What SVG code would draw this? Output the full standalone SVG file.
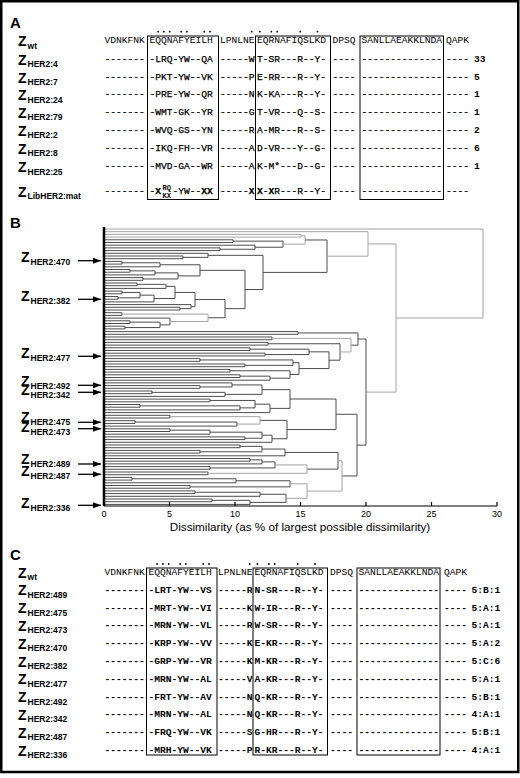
<svg xmlns="http://www.w3.org/2000/svg" width="520" height="778" viewBox="0 0 520 778">
<style>
.seq{font-family:"Liberation Mono","Courier New",monospace;font-size:9.6px;fill:#000}
.sa{stroke:#000;stroke-width:0.25}
.sb{font-weight:bold}
.z{font-family:"Liberation Sans",Arial,sans-serif;font-weight:bold;font-size:14px;fill:#000}
.zs{font-size:8.5px}
.box{fill:none;stroke:#000;stroke-width:1}
.lbl{font-family:"Liberation Sans",Arial,sans-serif;font-weight:bold;font-size:15px}
.dn{fill:none;stroke:#4d4d4d;stroke-width:1}
.dl{fill:none;stroke:#a3a3a3;stroke-width:1}
.ax{font-family:"Liberation Sans",Arial,sans-serif;font-size:9px;text-anchor:middle}
.arr{stroke:#000;stroke-width:1.3;fill:none}
</style>
<defs>
<marker id="ah" viewBox="0 0 8 6" refX="8" refY="3" markerWidth="8" markerHeight="6" markerUnits="userSpaceOnUse" orient="auto"><path d="M0,0L8,3L0,6z" fill="#000"/></marker>
</defs>
<rect x="0" y="0" width="520" height="778" fill="#fff"/>
<rect x="1.25" y="1.25" width="517" height="770.75" fill="none" stroke="#000" stroke-width="2.5"/>

<!-- Panel A -->
<g id="panelA">
<text class="lbl" x="10" y="28">A</text>
<g id="a-dots" fill="#000">
<circle cx="158.1" cy="31.7" r="0.9"/><circle cx="163.9" cy="31.7" r="0.9"/><circle cx="169.7" cy="31.7" r="0.9"/>
<circle cx="181.2" cy="31.7" r="0.9"/><circle cx="186.9" cy="31.7" r="0.9"/>
<circle cx="204.2" cy="31.7" r="0.9"/><circle cx="210" cy="31.7" r="0.9"/>
<circle cx="251.7" cy="31.7" r="0.9"/>
<circle cx="259.9" cy="31.7" r="0.9"/><circle cx="271.4" cy="31.7" r="0.9"/><circle cx="277.2" cy="31.7" r="0.9"/>
<circle cx="300.2" cy="31.7" r="0.9"/><circle cx="317.5" cy="31.7" r="0.9"/>
</g>
<g id="a-boxes">
<rect class="box" x="147.5" y="36" width="71" height="163.5"/>
<rect class="box" x="255.5" y="36" width="75" height="163.5"/>
<rect class="box" x="360" y="36" width="83.5" height="163.5"/>
</g>
<g id="a-wt">
<text class="z" x="18" y="46">Z<tspan class="zs" dx="1" dy="2.5">wt</tspan></text>
<text class="seq" y="43"><tspan x="104.5">VDNKFNK</tspan><tspan x="149.5">EQQNAFYEILH</tspan><tspan x="220">LPNLNE</tspan><tspan x="257">EQRNAFIQSLKD</tspan><tspan x="332.5">DPSQ</tspan><tspan x="361.5">SANLLAEAKKLNDA</tspan><tspan x="446">QAPK</tspan></text>
</g>
<g id="a-her2-4">
<text class="z" x="18" y="64.5">Z<tspan class="zs" dx="1" dy="2.5">HER2:4</tspan></text>
<text class="seq sa" y="61.5"><tspan x="104.5">-------</tspan><tspan x="149.5">-LRQ-YW--QA</tspan><tspan x="220">-----W</tspan><tspan x="257">T-SR---R--Y-</tspan><tspan x="332.5">----</tspan><tspan x="361.5">--------------</tspan><tspan x="446">----</tspan></text>
<text class="seq sb" x="474" y="61.5">33</text>
</g>
<g id="a-her2-7">
<text class="z" x="18" y="82.5">Z<tspan class="zs" dx="1" dy="2.5">HER2:7</tspan></text>
<text class="seq sa" y="79.5"><tspan x="104.5">-------</tspan><tspan x="149.5">-PKT-YW--VK</tspan><tspan x="220">-----P</tspan><tspan x="257">E-RR---R--Y-</tspan><tspan x="332.5">----</tspan><tspan x="361.5">--------------</tspan><tspan x="446">----</tspan></text>
<text class="seq sb" x="474" y="79.5">5</text>
</g>
<g id="a-her2-24">
<text class="z" x="18" y="100">Z<tspan class="zs" dx="1" dy="2.5">HER2:24</tspan></text>
<text class="seq sa" y="97"><tspan x="104.5">-------</tspan><tspan x="149.5">-PRE-YW--QR</tspan><tspan x="220">-----N</tspan><tspan x="257">K-KA---R--Y-</tspan><tspan x="332.5">----</tspan><tspan x="361.5">--------------</tspan><tspan x="446">----</tspan></text>
<text class="seq sb" x="474" y="97">1</text>
</g>
<g id="a-her2-79">
<text class="z" x="18" y="117.5">Z<tspan class="zs" dx="1" dy="2.5">HER2:79</tspan></text>
<text class="seq sa" y="114.5"><tspan x="104.5">-------</tspan><tspan x="149.5">-WMT-GK--YR</tspan><tspan x="220">-----G</tspan><tspan x="257">T-VR---Q--S-</tspan><tspan x="332.5">----</tspan><tspan x="361.5">--------------</tspan><tspan x="446">----</tspan></text>
<text class="seq sb" x="474" y="114.5">1</text>
</g>
<g id="a-her2-2">
<text class="z" x="18" y="135.5">Z<tspan class="zs" dx="1" dy="2.5">HER2:2</tspan></text>
<text class="seq sa" y="132.5"><tspan x="104.5">-------</tspan><tspan x="149.5">-WVQ-GS--YN</tspan><tspan x="220">-----R</tspan><tspan x="257">A-MR---R--S-</tspan><tspan x="332.5">----</tspan><tspan x="361.5">--------------</tspan><tspan x="446">----</tspan></text>
<text class="seq sb" x="474" y="132.5">2</text>
</g>
<g id="a-her2-8">
<text class="z" x="18" y="153.5">Z<tspan class="zs" dx="1" dy="2.5">HER2:8</tspan></text>
<text class="seq sa" y="150.5"><tspan x="104.5">-------</tspan><tspan x="149.5">-IKQ-FH--VR</tspan><tspan x="220">-----A</tspan><tspan x="257">D-VR---Y--G-</tspan><tspan x="332.5">----</tspan><tspan x="361.5">--------------</tspan><tspan x="446">----</tspan></text>
<text class="seq sb" x="474" y="150.5">6</text>
</g>
<g id="a-her2-25">
<text class="z" x="18" y="172">Z<tspan class="zs" dx="1" dy="2.5">HER2:25</tspan></text>
<text class="seq sa" y="169"><tspan x="104.5">-------</tspan><tspan x="149.5">-MVD-GA--WR</tspan><tspan x="220">-----A</tspan><tspan x="257">K-M*---D--G-</tspan><tspan x="332.5">----</tspan><tspan x="361.5">--------------</tspan><tspan x="446">----</tspan></text>
<text class="seq sb" x="474" y="169">1</text>
</g>
<g id="a-lib">
<text class="z" x="18" y="196.5">Z<tspan class="zs" dx="1" dy="2.5">LibHER2:mat</tspan></text>
<text class="seq sa" y="193.5"><tspan x="104.5">-------</tspan><tspan x="149.5">-<tspan class="sb">X</tspan></tspan><tspan x="172.5">-YW--<tspan class="sb">XX</tspan></tspan><tspan x="220">-----<tspan class="sb">X</tspan></tspan><tspan x="257"><tspan class="sb">X</tspan>-<tspan class="sb">X</tspan>R---R--Y-</tspan><tspan x="332.5">----</tspan><tspan x="361.5">--------------</tspan><tspan x="446">----</tspan></text>
<text class="seq sb" style="font-size:7px" x="162.5" y="189.5">RQ</text>
<text class="seq sb" style="font-size:7px" x="162.5" y="198">KX</text>
</g>
</g>

<!-- Panel B -->
<g id="panelB">
<text class="lbl" x="10" y="228">B</text>
<g id="dendrogram">
<g class="dn">
<path d="M104 239.8H233V242.5H104"/>
<path d="M104 247.9H220V250.6H104"/>
<path d="M104 245.2H255V249.25H220"/>
<path d="M233 241.15H283V247.22H255"/>
<path d="M104 256H183V258.7H104"/>
<path d="M104 253.3H208V257.35H183"/>
<path d="M104 261.4H122V264.1H104"/>
<path d="M122 262.75H160V266.8H104"/>
<path d="M104 269.5H130V272.2H104"/>
<path d="M130 270.85H155V274.9H104"/>
<path d="M104 277.6H143V280.3H104"/>
<path d="M155 272.88H178V278.95H143"/>
<path d="M160 264.78H200V275.92H178"/>
<path d="M104 283H137V285.7H104"/>
<path d="M137 284.35H166V288.4H104"/>
<path d="M104 291.1H122V293.8H104"/>
<path d="M104 296.5H118V299.2H104"/>
<path d="M122 292.45H140V297.85H118"/>
<path d="M140 295.15H154V301.9H104"/>
<path d="M166 286.38H175V298.53H154"/>
<path d="M104 307.3H180V310H104"/>
<path d="M104 304.6H191V308.65H180"/>
<path d="M175 292.45H195V306.63H191"/>
<path d="M104 312.7H122V315.4H104"/>
<path d="M104 320.8H130V323.5H104"/>
<path d="M104 326.2H125V328.9H104"/>
<path d="M130 322.15H160V327.55H125"/>
<path d="M104 318.1H170V324.85H160"/>
<path d="M195 299.54H225V317.76H208"/>
<path d="M200 270.35H245V308.65H225"/>
<path d="M208 255.33H263V289.5H245"/>
<path d="M305 239.97H327V272.42H263"/>
<path d="M104 331.6H298V334.3H104"/>
<path d="M104 337H272V339.7H104"/>
<path d="M104 342.4H268V345.1H104"/>
<path d="M104 347.8H250V350.5H104"/>
<path d="M104 353.2H265V355.9H104"/>
<path d="M250 349.15H309V354.55H265"/>
<path d="M104 358.6H200V361.3H104"/>
<path d="M104 364H245V366.7H104"/>
<path d="M200 359.95H293V365.35H245"/>
<path d="M104 369.4H230V372.1H104"/>
<path d="M104 374.8H240V377.5H104"/>
<path d="M240 376.15H270V380.2H104"/>
<path d="M230 370.75H290V378.18H270"/>
<path d="M293 362.65H299V374.46H290"/>
<path d="M309 351.85H329V368.56H299"/>
<path d="M268 343.75H340V360.2H329"/>
<path d="M298 332.95H358V345.16H351"/>
<path d="M104 385.6H200V388.3H104"/>
<path d="M104 382.9H232V386.95H200"/>
<path d="M104 391H152V393.7H104"/>
<path d="M152 392.35H225V396.4H104"/>
<path d="M232 384.93H262V394.38H225"/>
<path d="M104 399.1H210V401.8H104"/>
<path d="M104 404.5H140V407.2H104"/>
<path d="M140 405.85H240V409.9H104"/>
<path d="M210 400.45H255V407.88H240"/>
<path d="M255 404.16H270V412.6H104"/>
<path d="M262 389.65H290V408.38H270"/>
<path d="M104 415.3H170V418H104"/>
<path d="M104 420.7H135V423.4H104"/>
<path d="M135 422.05H237V426.1H104"/>
<path d="M104 428.8H170V431.5H104"/>
<path d="M170 430.15H210V434.2H104"/>
<path d="M104 436.9H245V439.6H104"/>
<path d="M210 432.18H262V438.25H245"/>
<path d="M262 435.21H272V442.3H104"/>
<path d="M260 420.36H287V438.76H272"/>
<path d="M290 399H336V429.56H287"/>
<path d="M104 445H240V447.7H104"/>
<path d="M104 450.4H200V453.1H104"/>
<path d="M240 446.35H262V451.75H200"/>
<path d="M262 449.05H285V455.8H104"/>
<path d="M104 458.5H250V461.2H104"/>
<path d="M250 459.85H262V463.9H104"/>
<path d="M104 466.6H210V469.3H104"/>
<path d="M262 461.88H275V467.95H210"/>
<path d="M104 472H208V474.7H104"/>
<path d="M285 452.43H338V469.14H307"/>
<path d="M104 477.4H132V480.1H104"/>
<path d="M132 478.75H236V482.8H104"/>
<path d="M104 485.5H190V488.2H104"/>
<path d="M236 480.78H290V486.85H190"/>
<path d="M104 490.9H195V493.6H104"/>
<path d="M195 492.25H260V496.3H104"/>
<path d="M104 499H212V501.7H104"/>
<path d="M212 500.35H250V504.4H104"/>
<path d="M260 494.28H286V502.38H250"/>
<path d="M336 414.28H357V475.94H342"/>
<path d="M358 339.06H366V445.11H357"/>
</g>
<g class="dl">
<path d="M104 234.4H301V237.1H104"/>
<path d="M301 235.75H305V244.19H283"/>
<path d="M104 231.7H368V256.19H327"/>
<path d="M122 314.05H208V321.48H170"/>
<path d="M272 338.35H351V351.98H340"/>
<path d="M170 416.65H260V424.08H237"/>
<path d="M275 464.92H307V473.35H208"/>
<path d="M290 483.82H307V498.33H286"/>
<path d="M338 460.79H342V491.08H307"/>
<path d="M368 243.95H396V392.09H366"/>
<path d="M104 229H483V318.02H396"/>
</g>
<line x1="104" y1="227" x2="104" y2="506" stroke="#000" stroke-width="2.5"/>
</g>
<g id="axis">
<path d="M104 506H497M104 506V502M169.5 506V502M235 506V502M300.5 506V502M366 506V502M431.5 506V502M497 506V502" stroke="#000" stroke-width="1.2" fill="none"/>
<text class="ax" x="104" y="517">0</text>
<text class="ax" x="169.5" y="517">5</text>
<text class="ax" x="235" y="517">10</text>
<text class="ax" x="300.5" y="517">15</text>
<text class="ax" x="366" y="517">20</text>
<text class="ax" x="431.5" y="517">25</text>
<text class="ax" x="497" y="517">30</text>
<text x="300" y="531" font-family="Liberation Sans, Arial, sans-serif" font-size="11.7" text-anchor="middle">Dissimilarity (as % of largest possible dissimilarity)</text>
</g>
<g id="b-470"><text class="z" x="21" y="262">Z<tspan class="zs" dx="1" dy="3">HER2:470</tspan></text><path class="arr" d="M78 260.7H101" marker-end="url(#ah)"/></g>
<g id="b-382"><text class="z" x="21" y="301">Z<tspan class="zs" dx="1" dy="3">HER2:382</tspan></text><path class="arr" d="M78 299.3H101" marker-end="url(#ah)"/></g>
<g id="b-477"><text class="z" x="21" y="358">Z<tspan class="zs" dx="1" dy="3">HER2:477</tspan></text><path class="arr" d="M78 356.3H101" marker-end="url(#ah)"/></g>
<g id="b-492"><text class="z" x="21" y="385.5">Z<tspan class="zs" dx="1" dy="3">HER2:492</tspan></text><path class="arr" d="M78 385.3H101" marker-end="url(#ah)"/></g>
<g id="b-342"><text class="z" x="21" y="395">Z<tspan class="zs" dx="1" dy="3">HER2:342</tspan></text><path class="arr" d="M78 392.3H101" marker-end="url(#ah)"/></g>
<g id="b-475"><text class="z" x="21" y="421.5">Z<tspan class="zs" dx="1" dy="3">HER2:475</tspan></text><path class="arr" d="M78 422.3H101" marker-end="url(#ah)"/></g>
<g id="b-473"><text class="z" x="21" y="431.5">Z<tspan class="zs" dx="1" dy="3">HER2:473</tspan></text><path class="arr" d="M78 428.7H101" marker-end="url(#ah)"/></g>
<g id="b-489"><text class="z" x="21" y="464">Z<tspan class="zs" dx="1" dy="3">HER2:489</tspan></text><path class="arr" d="M78 464H101" marker-end="url(#ah)"/></g>
<g id="b-487"><text class="z" x="21" y="476">Z<tspan class="zs" dx="1" dy="3">HER2:487</tspan></text><path class="arr" d="M78 474.3H101" marker-end="url(#ah)"/></g>
<g id="b-336"><text class="z" x="21" y="507.5">Z<tspan class="zs" dx="1" dy="3">HER2:336</tspan></text><path class="arr" d="M78 505.3H101" marker-end="url(#ah)"/></g>
</g>

<!-- Panel C -->
<g id="panelC">
<text class="lbl" x="10" y="560">C</text>
<g id="c-dots" fill="#000">
<circle cx="157.1" cy="564" r="0.9"/><circle cx="162.9" cy="564" r="0.9"/><circle cx="168.7" cy="564" r="0.9"/>
<circle cx="180.2" cy="564" r="0.9"/><circle cx="185.9" cy="564" r="0.9"/>
<circle cx="203.2" cy="564" r="0.9"/><circle cx="209" cy="564" r="0.9"/>
<circle cx="249.7" cy="564" r="0.9"/>
<circle cx="257.4" cy="564" r="0.9"/><circle cx="268.9" cy="564" r="0.9"/><circle cx="274.7" cy="564" r="0.9"/>
<circle cx="297.7" cy="564" r="0.9"/><circle cx="315" cy="564" r="0.9"/>
</g>
<g id="c-boxes">
<rect class="box" x="146.5" y="568" width="70.5" height="187"/>
<rect class="box" x="253" y="568" width="74.5" height="187"/>
<rect class="box" x="357" y="568" width="83" height="187"/>
</g>
<g id="c-wt">
<text class="z" x="18" y="577.5">Z<tspan class="zs" dx="1" dy="2.5">wt</tspan></text>
<text class="seq" y="575"><tspan x="104.5">VDNKFNK</tspan><tspan x="148.5">EQQNAFYEILH</tspan><tspan x="218">LPNLNE</tspan><tspan x="254.5">EQRNAFIQSLKD</tspan><tspan x="330">DPSQ</tspan><tspan x="358.5">SANLLAEAKKLNDA</tspan><tspan x="444">QAPK</tspan></text>
</g>
<g id="c-her2-489">
<text class="z" x="18" y="595.3">Z<tspan class="zs" dx="1" dy="2.5">HER2:489</tspan></text>
<text class="seq sb" y="592.8"><tspan x="104.5">-------</tspan><tspan x="148.5">-LRT-YW--VS</tspan><tspan x="218">-----R</tspan><tspan x="254.5">N-SR---R--Y-</tspan><tspan x="330">----</tspan><tspan x="358.5">--------------</tspan><tspan x="444">----</tspan><tspan x="471.5">5:B:1</tspan></text>
</g>
<g id="c-her2-475">
<text class="z" x="18" y="613.1">Z<tspan class="zs" dx="1" dy="2.5">HER2:475</tspan></text>
<text class="seq sb" y="610.6"><tspan x="104.5">-------</tspan><tspan x="148.5">-MRT-YW--VI</tspan><tspan x="218">-----K</tspan><tspan x="254.5">W-IR---R--Y-</tspan><tspan x="330">----</tspan><tspan x="358.5">--------------</tspan><tspan x="444">----</tspan><tspan x="471.5">5:A:1</tspan></text>
</g>
<g id="c-her2-473">
<text class="z" x="18" y="630.9">Z<tspan class="zs" dx="1" dy="2.5">HER2:473</tspan></text>
<text class="seq sb" y="628.4"><tspan x="104.5">-------</tspan><tspan x="148.5">-MRN-YW--VL</tspan><tspan x="218">-----R</tspan><tspan x="254.5">W-SR---R--Y-</tspan><tspan x="330">----</tspan><tspan x="358.5">--------------</tspan><tspan x="444">----</tspan><tspan x="471.5">5:A:1</tspan></text>
</g>
<g id="c-her2-470">
<text class="z" x="18" y="648.7">Z<tspan class="zs" dx="1" dy="2.5">HER2:470</tspan></text>
<text class="seq sb" y="646.2"><tspan x="104.5">-------</tspan><tspan x="148.5">-KRP-YW--VV</tspan><tspan x="218">-----K</tspan><tspan x="254.5">E-KR---R--Y-</tspan><tspan x="330">----</tspan><tspan x="358.5">--------------</tspan><tspan x="444">----</tspan><tspan x="471.5">5:A:2</tspan></text>
</g>
<g id="c-her2-382">
<text class="z" x="18" y="666.5">Z<tspan class="zs" dx="1" dy="2.5">HER2:382</tspan></text>
<text class="seq sb" y="664"><tspan x="104.5">-------</tspan><tspan x="148.5">-GRP-YW--VR</tspan><tspan x="218">-----K</tspan><tspan x="254.5">M-KR---R--Y-</tspan><tspan x="330">----</tspan><tspan x="358.5">--------------</tspan><tspan x="444">----</tspan><tspan x="471.5">5:C:6</tspan></text>
</g>
<g id="c-her2-477">
<text class="z" x="18" y="684.3">Z<tspan class="zs" dx="1" dy="2.5">HER2:477</tspan></text>
<text class="seq sb" y="681.8"><tspan x="104.5">-------</tspan><tspan x="148.5">-MRN-YW--AL</tspan><tspan x="218">-----V</tspan><tspan x="254.5">A-KR---R--Y-</tspan><tspan x="330">----</tspan><tspan x="358.5">--------------</tspan><tspan x="444">----</tspan><tspan x="471.5">5:A:1</tspan></text>
</g>
<g id="c-her2-492">
<text class="z" x="18" y="702.1">Z<tspan class="zs" dx="1" dy="2.5">HER2:492</tspan></text>
<text class="seq sb" y="699.6"><tspan x="104.5">-------</tspan><tspan x="148.5">-FRT-YW--AV</tspan><tspan x="218">-----N</tspan><tspan x="254.5">Q-KR---R--Y-</tspan><tspan x="330">----</tspan><tspan x="358.5">--------------</tspan><tspan x="444">----</tspan><tspan x="471.5">5:B:1</tspan></text>
</g>
<g id="c-her2-342">
<text class="z" x="18" y="719.9">Z<tspan class="zs" dx="1" dy="2.5">HER2:342</tspan></text>
<text class="seq sb" y="717.4"><tspan x="104.5">-------</tspan><tspan x="148.5">-MRN-YW--AL</tspan><tspan x="218">-----N</tspan><tspan x="254.5">Q-KR---R--Y-</tspan><tspan x="330">----</tspan><tspan x="358.5">--------------</tspan><tspan x="444">----</tspan><tspan x="471.5">4:A:1</tspan></text>
</g>
<g id="c-her2-487">
<text class="z" x="18" y="737.7">Z<tspan class="zs" dx="1" dy="2.5">HER2:487</tspan></text>
<text class="seq sb" y="735.2"><tspan x="104.5">-------</tspan><tspan x="148.5">-FRQ-YW--VK</tspan><tspan x="218">-----S</tspan><tspan x="254.5">G-HR---R--Y-</tspan><tspan x="330">----</tspan><tspan x="358.5">--------------</tspan><tspan x="444">----</tspan><tspan x="471.5">5:B:1</tspan></text>
</g>
<g id="c-her2-336">
<text class="z" x="18" y="755.5">Z<tspan class="zs" dx="1" dy="2.5">HER2:336</tspan></text>
<text class="seq sb" y="753"><tspan x="104.5">-------</tspan><tspan x="148.5">-MRH-YW--VK</tspan><tspan x="218">-----P</tspan><tspan x="254.5">R-KR---R--Y-</tspan><tspan x="330">----</tspan><tspan x="358.5">--------------</tspan><tspan x="444">----</tspan><tspan x="471.5">4:A:1</tspan></text>
</g>
</g>
</svg>
